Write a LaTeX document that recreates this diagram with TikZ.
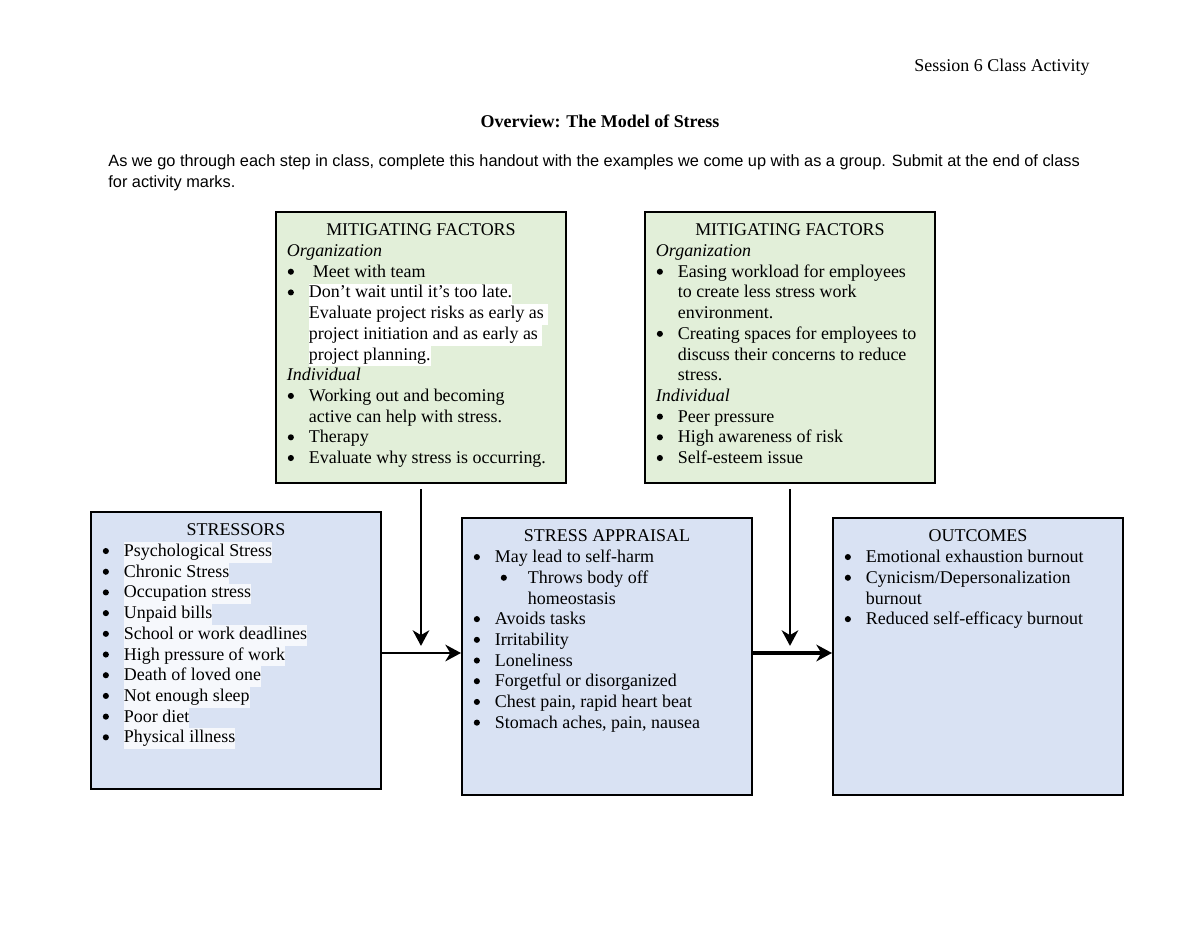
\documentclass[tikz,border=0pt]{standalone}
\usepackage{fontspec}
\setmainfont{Liberation Serif}
\newfontfamily\arialfont{Liberation Sans}
\usetikzlibrary{arrows.meta}

\definecolor{mitgreen}{HTML}{E2EFD9}
\definecolor{boxblue}{HTML}{D9E2F3}
\definecolor{hlwhite}{HTML}{FFFFFF}
\definecolor{hlblue}{HTML}{F6F8FC}

\newlength{\bulind}\setlength{\bulind}{0.396cm}
\newcommand{\dotmark}{\tikz[baseline=0pt]\fill (0,0.1) circle (0.055);}
\newcommand{\itm}[1]{\par\hangindent=\bulind\hangafter=1\noindent\makebox[\bulind][l]{\hspace{0.015cm}\dotmark}#1}
\newcommand{\subitm}[1]{\par\hangindent=0.99cm\hangafter=1\noindent\makebox[0.99cm][l]{\hspace{0.5cm}\dotmark}#1}
\newcommand{\hl}[2][hlwhite]{{\fboxsep=0pt\colorbox{#1}{\strut#2}}}

\begin{document}
\begin{tikzpicture}[every node/.style={font=\fontsize{9.2}{10.6}\selectfont},
    panel/.style={draw, line width=1pt, anchor=north west, inner xsep=0.198cm, inner ysep=0.17cm},
    mitbox/.style={panel, fill=mitgreen},
    bluebox/.style={panel, fill=boxblue},
    arr/.style={-{Stealth[length=8pt,width=8.5pt,inset=2.5pt]}, line width=1.2pt}]
    \useasboundingbox (0,0) rectangle (21.6,16.686);

    % header
    \node[anchor=east, inner sep=0] (sess) at (19.62,15.48) {Session 6 Class Activity};
    \node[font=\bfseries\fontsize{9.2}{10.6}\selectfont] (title) at (10.8,14.508) {Overview: The Model of Stress};
    \node[anchor=north west, inner sep=0, align=left, font=\arialfont\fontsize{8.36}{10.75}\selectfont] (intro) at (1.944,13.9)
        {As we go through each step in class, complete this handout with the examples we come up with as a group. Submit at the end of class\\for activity marks.};

    % mitigating factors
    \node[mitbox] (mit1) at (4.95,12.888) {\parbox[t][4.538cm][t]{4.824cm}{\raggedright
        {\centering\strut MITIGATING FACTORS\par}
        \textit{Organization}
        \itm{\hspace{2pt}Meet with team}
        \itm{\hl{Don’t wait until it’s too late.}\newline\hl{Evaluate project risks as early as }\newline\hl{project initiation and as early as }\newline\hl{project planning.}}
        \par\textit{Individual}
        \itm{Working out and becoming\newline active can help with stress.}
        \itm{Therapy}
        \itm{Evaluate why stress is occurring.}}};
    \node[mitbox] (mit2) at (11.592,12.888) {\parbox[t][4.538cm][t]{4.824cm}{\raggedright
        {\centering\strut MITIGATING FACTORS\par}
        \textit{Organization}
        \itm{Easing workload for employees\newline to create less stress work\newline environment.}
        \itm{Creating spaces for employees to\newline discuss their concerns to reduce\newline stress.}
        \par\textit{Individual}
        \itm{Peer pressure}
        \itm{High awareness of risk}
        \itm{Self-esteem issue}}};

    % model row
    \node[bluebox] (stress) at (1.62,7.488) {\parbox[t][4.646cm][t]{4.824cm}{\raggedright
        {\centering\strut STRESSORS\par}
        \itm{\hl[hlblue]{Psychological Stress}}
        \itm{\hl[hlblue]{Chronic Stress}}
        \itm{\hl[hlblue]{Occupation stress}}
        \itm{\hl[hlblue]{Unpaid bills}}
        \itm{\hl[hlblue]{School or work deadlines}}
        \itm{\hl[hlblue]{High pressure of work}}
        \itm{\hl[hlblue]{Death of loved one}}
        \itm{\hl[hlblue]{Not enough sleep}}
        \itm{\hl[hlblue]{Poor diet}}
        \itm{\hl[hlblue]{Physical illness}}}};
    \node[bluebox] (apprais) at (8.298,7.38) {\parbox[t][4.646cm][t]{4.824cm}{\raggedright
        {\centering\strut STRESS APPRAISAL\par}
        \itm{May lead to self-harm}
        \subitm{Throws body off\newline homeostasis}
        \itm{Avoids tasks}
        \itm{Irritability}
        \itm{Loneliness}
        \itm{Forgetful or disorganized}
        \itm{Chest pain, rapid heart beat}
        \itm{Stomach aches, pain, nausea}}};
    \node[bluebox] (outcome) at (14.976,7.38) {\parbox[t][4.646cm][t]{4.824cm}{\raggedright
        {\centering\strut OUTCOMES\par}
        \itm{Emotional exhaustion burnout}
        \itm{Cynicism/Depersonalization\newline burnout}
        \itm{Reduced self-efficacy burnout}}};

    % arrows
    \coordinate (lvl) at (0,4.932);
    \coordinate (tip1) at (mit1.south |- 0,5.06);
    \coordinate (tip2) at (mit2.south |- 0,5.06);
    \draw[arr] ([yshift=-0.09cm]mit1.south) -- (tip1);
    \draw[arr] ([yshift=-0.09cm]mit2.south) -- (tip2);
    \draw[arr] (stress.east |- lvl) -- (apprais.west |- lvl);
    \draw[arr, line width=1.6pt] (apprais.east |- lvl) -- (outcome.west |- lvl);
\end{tikzpicture}
\end{document}
